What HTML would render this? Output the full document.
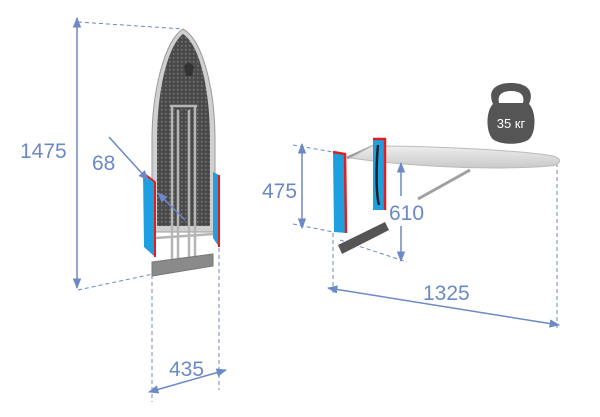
<!DOCTYPE html>
<html><head><meta charset="utf-8"><style>
html,body{margin:0;padding:0;background:#fff;}
svg{display:block;}
text{font-family:"Liberation Sans",sans-serif;fill:#6d88c6;}
</style></head><body>
<svg width="600" height="417" viewBox="0 0 600 417" xmlns="http://www.w3.org/2000/svg">
<defs>
<marker id="a" viewBox="0 0 10 10" refX="9" refY="5" markerWidth="7" markerHeight="7" orient="auto-start-reverse"><path d="M0,1 L10,5 L0,9 Z" fill="#6d88c6"/></marker>
<pattern id="dots" width="4" height="4" patternUnits="userSpaceOnUse"><rect width="4" height="4" fill="#4a4a4a"/><rect x="1" y="1" width="1.5" height="1.5" fill="#7a7a7a"/></pattern>
<linearGradient id="bd" x1="0" y1="0" x2="0" y2="1"><stop offset="0" stop-color="#eeeeee"/><stop offset="1" stop-color="#c9c9c9"/></linearGradient>
</defs>
<g stroke="#6d88c6" stroke-width="1" stroke-dasharray="4,3" fill="none">
<line x1="78" y1="22" x2="183" y2="29"/>
<line x1="78" y1="290" x2="153" y2="274"/>
<line x1="152" y1="275" x2="152" y2="402"/>
<line x1="219" y1="248" x2="219" y2="390"/>
<line x1="293" y1="145" x2="333" y2="152"/>
<line x1="293" y1="224" x2="333" y2="232"/>
<line x1="333" y1="233" x2="333" y2="295"/>
<line x1="340" y1="240" x2="407" y2="262"/>
<line x1="557" y1="163" x2="557" y2="328"/>
</g>
<!-- left board -->
<path d="M183,29 C203,40 215,90 215,140 L215,232 L152,232 L152,140 C152,90 165,40 183,29 Z" fill="#d0d0d0" stroke="#9a9a9a"/>
<path d="M183,34 C200,45 210,90 210,140 L210,226 L157,226 L157,140 C157,90 168,45 183,34 Z" fill="url(#dots)"/>
<g stroke="#b5b5b5" stroke-width="2.5" fill="none">
<line x1="172" y1="106" x2="172" y2="265"/><line x1="195" y1="106" x2="195" y2="265"/>
<line x1="170" y1="106" x2="197" y2="106"/><line x1="155" y1="238" x2="214" y2="234"/>
<line x1="178" y1="110" x2="178" y2="265"/><line x1="189" y1="110" x2="189" y2="265"/>
</g>
<path d="M189,62 l5,4 l-2,10 l-6,0 l-2,-10 Z" fill="#333"/>
<polygon points="143,173 154,182 155,257 144,247" fill="#1ea0e0"/>
<line x1="155" y1="182" x2="155" y2="257" stroke="#e02020" stroke-width="2"/>
<line x1="143" y1="173" x2="155" y2="182" stroke="#e02020" stroke-width="2"/>
<polygon points="213,172 219,175 219,247 213,238" fill="#1ea0e0"/>
<line x1="219" y1="175" x2="219" y2="247" stroke="#e02020" stroke-width="2"/>
<polygon points="152,262 213,254 213,266 152,276" fill="#8a8a8a" stroke="#777"/>
<!-- left dims -->
<line x1="77" y1="18" x2="77" y2="288" stroke="#6d88c6" stroke-width="1.5" marker-start="url(#a)" marker-end="url(#a)"/>
<text x="20" y="158" font-size="21">1475</text>
<line x1="109" y1="137" x2="148" y2="180" stroke="#6d88c6" stroke-width="1.5" marker-end="url(#a)"/>
<line x1="185" y1="220" x2="158" y2="193" stroke="#6d88c6" stroke-width="1.5" marker-end="url(#a)"/>
<text x="92" y="170" font-size="21">68</text>
<line x1="149" y1="392" x2="226" y2="370" stroke="#6d88c6" stroke-width="1.5" marker-start="url(#a)" marker-end="url(#a)"/>
<text x="169" y="376" font-size="21">435</text>
<!-- right -->
<line x1="347" y1="158" x2="374" y2="146" stroke="#999" stroke-width="3"/>
<line x1="418" y1="199" x2="470" y2="170" stroke="#a0a0a0" stroke-width="3"/>
<path d="M350,158 L372,146 C430,146 520,150 553,156 C564,159 560,165 550,166 C500,170 420,168 350,158 Z" fill="url(#bd)" stroke="#bbb"/>
<polygon points="333,152 345,154 346,233 334,232" fill="#1ea0e0"/>
<polyline points="333,152 345,154 346,233" fill="none" stroke="#e02020" stroke-width="2.5"/>
<polygon points="373,139 385,139 385,210 373,210" fill="#1ea0e0"/>
<polyline points="373,139 385,139 385,210" fill="none" stroke="#e02020" stroke-width="2.5"/>
<path d="M378,145 C376,165 376,195 379,205" stroke="#222" stroke-width="2.5" fill="none"/>
<polygon points="338,245 385,222 389,230 342,254" fill="#555"/>
<line x1="302" y1="144" x2="302" y2="228" stroke="#6d88c6" stroke-width="1.5" marker-start="url(#a)" marker-end="url(#a)"/>
<text x="262" y="198" font-size="21">475</text>
<line x1="401" y1="163" x2="401" y2="196" stroke="#6d88c6" stroke-width="1.5" marker-start="url(#a)"/>
<line x1="401" y1="226" x2="401" y2="261" stroke="#6d88c6" stroke-width="1.5" marker-end="url(#a)"/>
<text x="389" y="220" font-size="21">610</text>
<line x1="328" y1="288" x2="559" y2="325" stroke="#6d88c6" stroke-width="1.5" marker-start="url(#a)" marker-end="url(#a)"/>
<text x="423" y="300" font-size="21">1325</text>
<!-- weight -->
<path d="M493,104 C487,90 496,83 511,83 C526,83 535,90 529,104 C537,112 536,135 528,140 C520,145 502,145 494,140 C486,135 485,112 493,104 Z" fill="#555"/>
<path d="M499,103 C497,94 503,91 511,91 C519,91 525,94 523,103 Z" fill="#fff"/>
<text x="511" y="128" font-size="13" text-anchor="middle" style="fill:#fff">35 кг</text>
</svg>
</body></html>
